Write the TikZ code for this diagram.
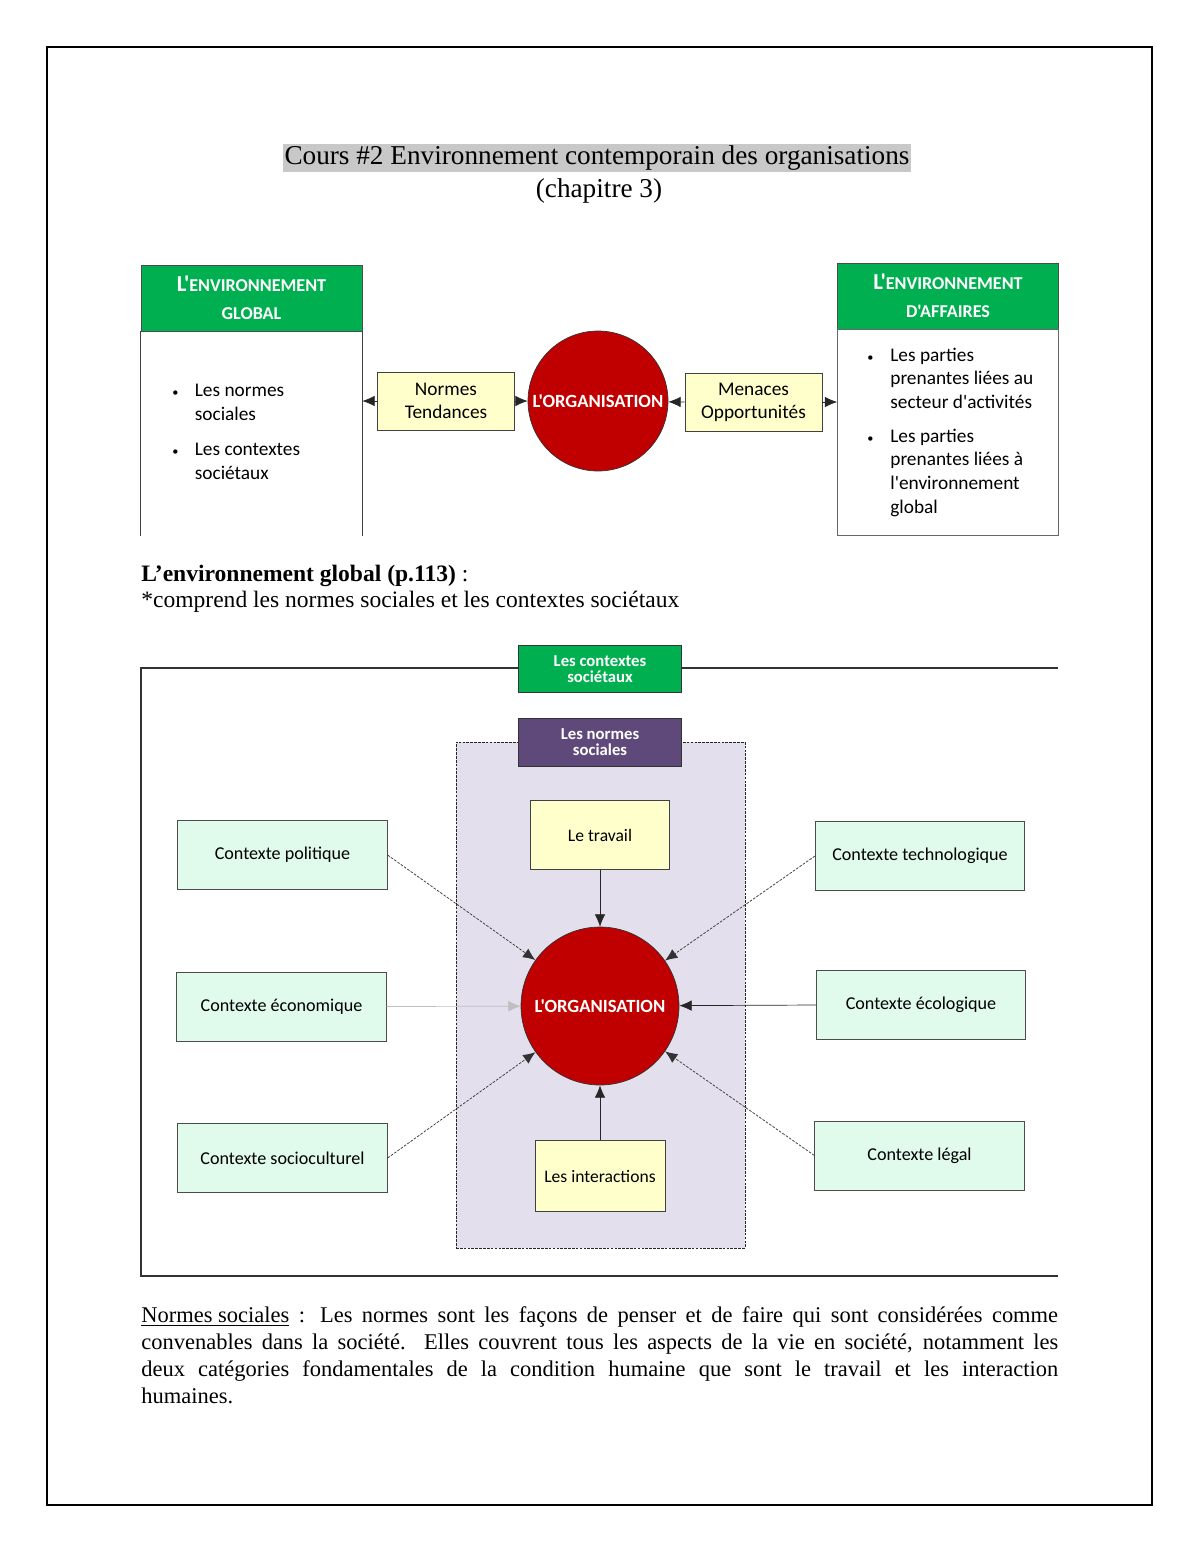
\documentclass[tikz,border=0pt]{standalone}
\usepackage{fontspec}
\setmainfont{Liberation Serif}
\newfontfamily\diafont{Carlito}
\usetikzlibrary{arrows.meta}

\definecolor{hdgreen}{HTML}{00B050}
\definecolor{orgred}{HTML}{C00000}
\definecolor{noteyel}{HTML}{FFFFCC}
\definecolor{normpurple}{HTML}{5F497A}
\definecolor{normlav}{HTML}{E4DFEC}
\definecolor{ctxmint}{HTML}{E0FAEC}
\definecolor{titlegray}{HTML}{C8C8C8}

\newcommand{\smc}[1]{{\fontsize{10.3}{16}\selectfont #1}}
\newcommand{\bul}{{\fontsize{7}{7}\selectfont\textbullet}}
\newcommand{\itm}[2]{\begin{tabular}{@{}p{0.45cm}@{}l@{}}\bul & #1\\ & #2\end{tabular}}

\begin{document}
\begin{tikzpicture}[x=0.02cm, y=-0.02cm,
		hd/.style = {rectangle, draw=black!70, fill=hdgreen, text=white, font=\diafont\bfseries\fontsize{13}{16}\selectfont, align=center, inner sep=0pt, minimum width=4.42cm, minimum height=1.32cm},
		bx/.style = {rectangle, inner sep=0pt, minimum width=4.42cm},
		note/.style = {rectangle, draw=black!75, fill=noteyel, font=\diafont\fontsize{11}{13}\selectfont, align=center, inner sep=0pt, minimum width=2.74cm, minimum height=1.16cm},
		org/.style = {circle, draw=black!80, fill=orgred, text=white, font=\diafont\bfseries\fontsize{10.6}{12}\selectfont, inner sep=0pt},
		lst/.style = {font=\diafont\fontsize{11}{13.7}\selectfont, anchor=west, inner sep=0pt},
		ctx/.style = {rectangle, draw=black!70, fill=ctxmint, font=\diafont\fontsize{10.3}{12}\selectfont, inner sep=0pt, minimum width=4.19cm, minimum height=1.38cm},
		tag/.style = {rectangle, draw=black!80, text=white, font=\diafont\bfseries\fontsize{9.5}{9.5}\selectfont, align=center, inner sep=0pt, minimum width=3.26cm, minimum height=0.94cm},
		r/.style = {-{Latex[length=7pt,width=6pt]}, black!85},
		dl/.style = {-{Latex[length=7pt,width=6pt]}, black!80, line width=0.4pt, dash pattern=on 1.5pt off 0.8pt}
		]
	\useasboundingbox (0,0) rectangle (1200,1553);
	\draw[line width=1.2pt] (47,47) rectangle (1152,1505);
	
	%Title
	\node[fill=titlegray, inner xsep=1pt, inner ysep=1pt, font=\fontsize{15.5}{17}\selectfont] (title) at (597,158) {Cours \#2 Environnement contemporain des organisations};
	\node[font=\fontsize{15.5}{17}\selectfont] (chap) at (599,191) {(chapitre 3)};
	
	%Nodes
	\node[hd]	(gh)	at	(251.5,298)	{L'\smc{ENVIRONNEMENT}\\\smc{GLOBAL}};
	\node[bx, minimum height=4.08cm, anchor=north]	(gb)	at	(gh.south)	{};
	\node[lst]	(g1)	at	(172,404)	{\itm{Les normes}{sociales}};
	\node[lst]	(g2)	at	(172,463)	{\itm{Les contextes}{sociétaux}};
	\node[note]	(nt)	at	(446,401)	{Normes\\Tendances};
	\node[org, minimum size=2.8cm]	(o1)	at	(598,401)	{L'ORGANISATION};
	\node[note]	(mo)	at	(753.5,402)	{Menaces\\Opportunités};
	\node[hd]	(ah)	at	(948,296)	{L'\smc{ENVIRONNEMENT}\\\smc{D'AFFAIRES}};
	\node[bx, minimum height=4.1cm, anchor=north]	(ab)	at	(ah.south)	{};
	\node[lst, font=\diafont\fontsize{11}{13.4}\selectfont, align=left]	(a1)	at	(867,380)	{\begin{tabular}{@{}p{0.46cm}@{}l@{}}\bul & Les parties\\ & prenantes liées au\\ & secteur d'activités\end{tabular}};
	\node[lst, font=\diafont\fontsize{11}{13.4}\selectfont, align=left]	(a2)	at	(867,473)	{\begin{tabular}{@{}p{0.46cm}@{}l@{}}\bul & Les parties\\ & prenantes liées à\\ & l'environnement\\ & global\end{tabular}};
	
	%Lines
	\draw[black!75]	(gb.south west)	--	(gb.north west);
	\draw[black!75]	(gb.north east)	--	(gb.south east);
	\draw[black!60]	(ab.north west)	rectangle	(ab.south east);
	\draw[r]	(nt.west)	--	(nt.west -| gb.east);
	\draw[r]	(nt.east)	--	(o1);
	\draw[r]	(mo.west)	--	(o1);
	\draw[r]	(mo.east)	--	(mo.east -| ab.west);
	
	%Text
	\node[anchor=west, inner sep=0pt, font=\fontsize{13.4}{15}\selectfont] (eg) at (141,576) {\textbf{L'environnement global (p.113)} :};
	\node[anchor=west, inner sep=0pt, font=\fontsize{13.4}{15}\selectfont] (cp) at (141,602) {*comprend les normes sociales et les contextes sociétaux};
	
	%Societal contexts
	\draw[black!80, line width=0.8pt] (1058,668) -| (141,1276) -- (1058,1276);
	\node[rectangle, draw=black!85, dash pattern=on 1.5pt off 0.7pt, fill=normlav, minimum width=5.78cm, minimum height=10.12cm, inner sep=0pt] (ns) at (600.5,995) {};
	\node[tag, fill=hdgreen]	(sc)	at	(600,669)	{Les contextes\\sociétaux};
	\node[tag, fill=normpurple, minimum height=0.96cm]	(sn)	at	(600,742)	{Les normes\\sociales};
	\node[note, font=\diafont\fontsize{10}{12}\selectfont, minimum width=2.78cm, minimum height=1.38cm]	(tr)	at	(600,835)	{Le travail};
	\node[org, minimum size=3.16cm]	(o2)	at	(600,1006)	{L'ORGANISATION};
	\node[note, font=\diafont\fontsize{10}{12}\selectfont, minimum width=2.6cm, minimum height=1.42cm]	(in)	at	(600,1176)	{Les interactions};
	\node[ctx]	(pol)	at	(282.5,855)	{Contexte politique};
	\node[ctx]	(eco)	at	(281.5,1006.5)	{Contexte économique};
	\node[ctx]	(soc)	at	(282.5,1158)	{Contexte socioculturel};
	\node[ctx]	(tec)	at	(920,856)	{Contexte technologique};
	\node[ctx]	(eln)	at	(921,1005)	{Contexte écologique};
	\node[ctx]	(leg)	at	(919.5,1155.5)	{Contexte légal};
	
	\draw[r]	(tr)	--	(o2);
	\draw[r]	(in)	--	(o2);
	\draw[dl]	(pol.east)	--	(o2);
	\draw[r, black!25]	(eco.east)	--	(o2);
	\draw[dl]	(soc.east)	--	(o2);
	\draw[dl]	(tec.west)	--	(o2);
	\draw[r]	(eln.west)	--	(o2);
	\draw[dl]	(leg.west)	--	(o2);
	
	%Paragraph
	\node[anchor=north west, inner sep=0pt, text width=18.34cm, align=justify, font=\fontsize{12.8}{15.4}\selectfont] (ptx) at (141,1306) {\underline{Normes sociales} : Les normes sont les façons de penser et de faire qui sont considérées comme\linebreak convenables dans la société. Elles couvrent tous les aspects de la vie en société, notamment les\linebreak deux catégories fondamentales de la condition humaine que sont le travail et les interaction\linebreak humaines.};
\end{tikzpicture}
\end{document}
